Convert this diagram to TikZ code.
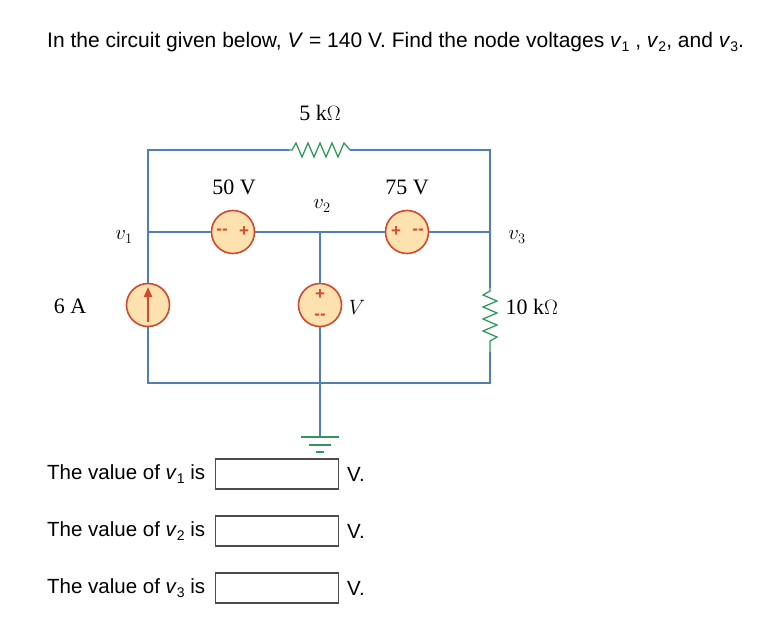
\documentclass[tikz,border=0pt]{standalone}
\usepackage{fontspec}
\setmainfont{Liberation Serif}
\newfontfamily\sans{Liberation Sans}
\usetikzlibrary{arrows.meta}
\definecolor{wire}{HTML}{4F7FB5}
\definecolor{res}{HTML}{2E9A5A}
\definecolor{srcf}{HTML}{FDE2B0}
\definecolor{srcd}{HTML}{D2492E}
\newcommand{\ssub}[1]{\raisebox{-4pt}{\fontsize{14}{14}\selectfont #1}}
\begin{document}
\begin{tikzpicture}[x=1pt,y=-1pt,
  w/.style={draw=wire,line width=1.3pt},
  src/.style={circle,draw=srcd,fill=srcf,line width=1.6pt,minimum size=43pt,inner sep=0pt},
  sg/.style={text=srcd,font=\sans\bfseries\fontsize{17}{17}\selectfont,inner sep=0pt},
  rz/.style={draw=res,line width=1.3pt},
  lab/.style={font=\fontsize{22}{22}\selectfont},
  q/.style={font=\sans\fontsize{20.5}{20.5}\selectfont,anchor=west,inner sep=0pt},
  box/.style={draw=black!70,line width=1.2pt,minimum width=123pt,minimum height=30pt,inner sep=0pt}]
\useasboundingbox (0,0) rectangle (771,623);
\node[q,font=\sans\fontsize{21}{21}\selectfont] (title) at (47,42) {In the circuit given below, \textit{V} = 140 V. Find the node voltages \textit{v}\ssub{1} , \textit{v}\ssub{2}, and \textit{v}\ssub{3}.};
% coordinates
\coordinate (tl) at (148,150); \coordinate (tr) at (490,150);
\coordinate (ml) at (148,232); \coordinate (mm) at (320,232); \coordinate (mr) at (490,232);
\coordinate (bl) at (148,383); \coordinate (bm) at (320,383); \coordinate (br) at (490,383);
\coordinate (r1a) at (289,150); \coordinate (r1b) at (350,150);
\coordinate (r2a) at (490,288); \coordinate (r2b) at (490,352);
\coordinate (g) at (320,437);
% wires
\draw[w] (r1a) -- (tl) -- (bl) -- (br) -- (r2b);
\draw[w] (r1b) -- (tr) -- (r2a);
\draw[w] (ml) -- (mr);
\draw[w] (mm) -- (g);
% resistors
\draw[rz] (r1a) -- ++(3,0) -- ++(4,-7) -- ++(6,14) -- ++(6,-14) -- ++(6,14) -- ++(6,-14) -- ++(6,14) -- ++(6,-14) -- ++(6,14) -- ++(6,-14) -- (r1b);
\draw[rz] (r2a) -- ++(0,3) -- ++(-7,4) -- ++(14,6) -- ++(-14,6) -- ++(14,6) -- ++(-14,6) -- ++(14,6) -- ++(-14,6) -- ++(14,6) -- ++(-7,4) -- (r2b);
% sources
\node[src] (s50) at (233,232) {};
\node[src] (s75) at (407,232) {};
\node[src] (sI) at (148,305) {};
\node[src] (sV) at (320,305) {};
\node[sg] (s50m) at (222,232) {--};
\node[sg] (s50p) at (244,232) {+};
\node[sg] (s75p) at (396,232) {+};
\node[sg] (s75m) at (418,232) {--};
\node[sg] (sVp) at (320,295) {+};
\node[sg] (sVm) at (320,317) {--};
\coordinate (ia) at (148,322); \coordinate (ib) at (148,287);
\draw[srcd,line width=2pt,-{Triangle[length=10pt,width=8pt]}] (ia) -- (ib);
% ground
\draw[res,line width=1.3pt] (301,437) -- (339,437) (309,445) -- (331,445) (316,452) -- (324,452);
% labels
\node[lab] (l5k) at (320,113) {5 k$\Omega$};
\node[lab] (l50) at (234,187) {50 V};
\node[lab] (l75) at (407,187) {75 V};
\node[lab] (lv2) at (322,206) {$v_2$};
\node[lab] (lv1) at (124,237) {$v_1$};
\node[lab] (lv3) at (517,237) {$v_3$};
\node[lab] (l6A) at (70,306) {6 A};
\node[lab] (lV) at (357,307) {$V$};
\node[lab,anchor=west] (l10k) at (502,307) {10 k$\Omega$};
% questions
\node[q] (q1) at (47,474) {The value of \textit{v}\ssub{1} is};
\node[q] (q2) at (47,531) {The value of \textit{v}\ssub{2} is};
\node[q] (q3) at (47,588) {The value of \textit{v}\ssub{3} is};
\node[box,anchor=west] (b1) at (215,474) {};
\node[box,anchor=west] (b2) at (215,531) {};
\node[box,anchor=west] (b3) at (215,588) {};
\node[q] (u1) at (347,474) {V.};
\node[q] (u2) at (347,531) {V.};
\node[q] (u3) at (347,588) {V.};
\end{tikzpicture}
\end{document}
